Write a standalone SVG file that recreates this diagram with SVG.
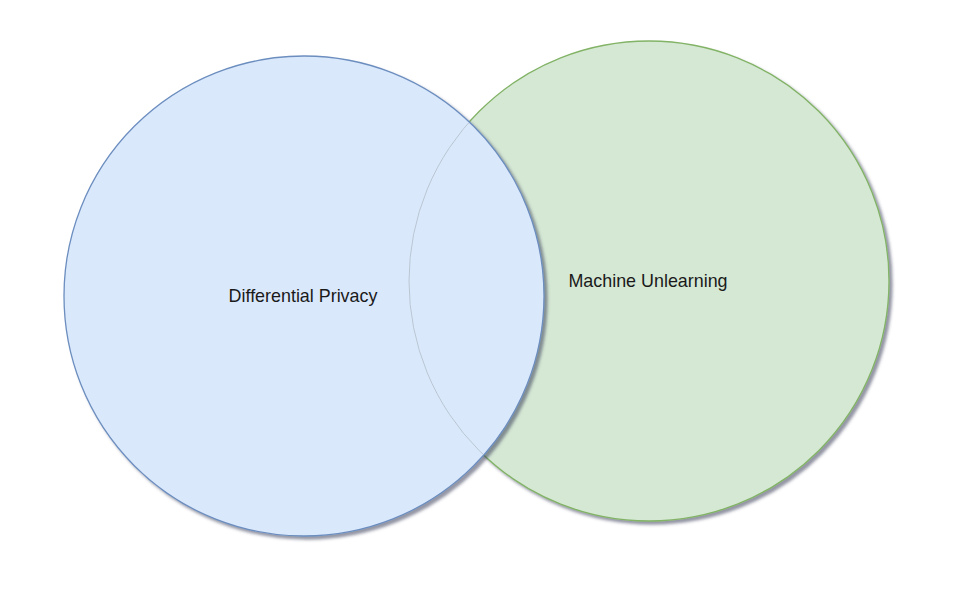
<svg xmlns="http://www.w3.org/2000/svg" width="976" height="589" viewBox="0 0 976 589">
<style>
.lbl{font-family:"Liberation Sans",Arial,sans-serif;font-size:17.9px;fill:#1a1a1a;text-anchor:middle;dominant-baseline:central}
</style>
<defs>
<filter id="sh" x="-10%" y="-10%" width="120%" height="120%">
<feDropShadow dx="3" dy="3" stdDeviation="1.6" flood-color="#3a3f5a" flood-opacity="0.55"/>
</filter>
<clipPath id="blueClip"><circle cx="304" cy="296" r="239"/></clipPath>
</defs>
<rect width="976" height="589" fill="#ffffff"/>
<g id="machine-unlearning">
<circle cx="649" cy="281" r="240" fill="#d5e8d4" stroke="#82b366" stroke-width="1.3" filter="url(#sh)"/>
<text class="lbl" x="648" y="281">Machine Unlearning</text>
</g>
<g id="differential-privacy">
<circle cx="304" cy="296" r="240" fill="#dae8fc" stroke="#6c8ebf" stroke-width="1.3" filter="url(#sh)"/>
<circle cx="649" cy="281" r="240" fill="none" stroke="#b9c6d2" stroke-width="1" clip-path="url(#blueClip)"/>
<text class="lbl" x="303" y="296">Differential Privacy</text>
</g>
<g id="connectors"/>
</svg>
